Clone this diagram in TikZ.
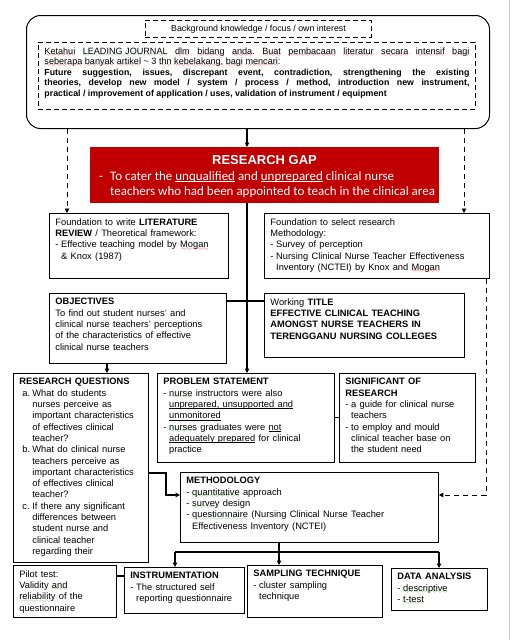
\documentclass[tikz,border=0pt]{standalone}
\usepackage{fontspec}
\setmainfont{Liberation Sans}
\newfontfamily\calfont{Carlito}
\usetikzlibrary{arrows.meta}
\definecolor{gapred}{RGB}{192,0,0}
\definecolor{sqgreen}{RGB}{70,165,70}
\frenchspacing
\font\sixly=lasy6
\newcommand\sqw[2]{\leavevmode\setbox0\hbox{#2}\rlap{\textcolor{#1}{\lower2.4pt\hbox to\wd0{\xleaders\hbox{\sixly\char58}\hfil}}}\box0\relax}
\newcommand\rs[1]{\sqw{red}{#1}}
\newcommand\gs[1]{\sqw{sqgreen}{#1}}
\newcommand\ul[1]{\leavevmode\setbox0\hbox{#1}\rlap{\rule[-1.6pt]{\wd0}{0.6pt}}\box0\relax}
\newcommand\itm{\par\hangindent=5.8pt\hangafter=1\makebox[5.8pt][l]{-}\ignorespaces}
\newcommand\rqi[1]{\par\hangindent=13pt\hangafter=1\hspace*{3pt}\makebox[10pt][l]{#1}\ignorespaces}
\newcommand\bx[7][]{\node[bxs,anchor=north west,#1] (#2) at (#3,#4) {\parbox[c][\dimexpr#6pt-#4pt-10pt\relax][t]{\dimexpr#5pt-#3pt-12pt\relax}{\raggedright\let\\\newline\spaceskip=3.3pt plus 1pt minus 0.5pt #7}};}
\tikzset{
  bxs/.style={draw, line width=0.8pt, inner xsep=6pt, inner ysep=5pt, font=\fontsize{9.3}{11.3}\selectfont},
  dbox/.style={draw, line width=0.9pt, dash pattern=on 5pt off 3pt},
  line/.style={line width=1.1pt},
  sconn/.style={line width=1.1pt, -{Triangle[length=4.5pt,width=4.5pt]}},
  dconn/.style={line width=0.9pt, dash pattern=on 5pt off 4pt, -{Triangle[length=4.5pt,width=4.5pt]}},
}
\begin{document}
\begin{tikzpicture}[x=1pt,y=-1pt]
\fill[white] (0,0) rectangle (512,640);
\useasboundingbox (0,0) rectangle (512,640);
\draw[gray!45, line width=0.8pt] (509,0) -- (509,640);
% top box
\node[draw, line width=1pt, rounded corners=14pt, minimum width=463pt, minimum height=113pt, inner sep=0pt, anchor=north west] (top) at (26,15) {};
\node[dbox, minimum width=226pt, minimum height=17pt, inner sep=0pt, anchor=north west, font=\fontsize{8.8}{10}\selectfont] (bg) at (145,20) {Background knowledge / focus / own interest};
\node[dbox, inner xsep=6pt, inner ysep=5pt, anchor=north west] (jn) at (38,42) {\parbox[c][57pt][t]{425pt}{\frenchspacing\fontsize{9.1}{10.4}\selectfont
\rs{Ketahui} \gs{LEADING JOURNAL} \rs{dlm} \rs{bidang} \rs{anda}. \rs{Buat} \rs{pembacaan} \rs{literatur} \rs{secara} \rs{intensif} \rs{bagi}\linebreak
\rs{seberapa} \rs{banyak} \rs{artikel} \textasciitilde{} 3 \rs{thn} \rs{kebelakang}, \rs{bagi} \rs{mencari}:\par
\fontsize{8.8}{10.6}\selectfont
\textbf{Future suggestion, issues, discrepant event, contradiction, strengthening the existing\linebreak theories, develop new model / system / process / method, introduction new instrument,\linebreak practical / improvement of application / uses, validation of instrument / equipment}}};
% research gap
\node[fill=gapred, minimum width=349pt, minimum height=56pt, inner sep=0pt, anchor=north west] (gap) at (90,147) {};
\node[text=white, inner sep=0pt, font=\bfseries\fontsize{13}{13}\selectfont] (gapt) at (264.5,160) {RESEARCH GAP};
\node[text=white, inner sep=0pt, anchor=north west, align=left, font=\calfont\fontsize{13}{15}\selectfont] (gapb) at (99,171) {\makebox[11pt][l]{-}To cater the \ul{unqualified} and \ul{unprepared} clinical nurse\\\hspace*{11pt}teachers who had been appointed to teach in the clinical area};
% boxes
\bx{lit}{49}{213}{228}{278}{Foundation to write \textbf{LITERATURE}\\ \textbf{REVIEW} / Theoretical framework:\itm Effective teaching model by \rs{Mogan}\\ \& Knox (1987)}
\bx{mf}{264}{213}{489}{278}{Foundation to select research\\ Methodology:\itm Survey of perception\itm Nursing Clinical Nurse Teacher Effectiveness\\ Inventory (NCTEI) by Knox and \rs{Mogan}}
\bx{obj}{49}{293}{226}{363}{\textbf{OBJECTIVES}\\ To find out student nurses' and\\ clinical nurse teachers' perceptions\\ of the characteristics of effective\\ clinical nurse teachers}
\bx{ttl}{264}{293}{464}{357}{Working \textbf{TITLE}\\ \textbf{EFFECTIVE CLINICAL TEACHING\\ AMONGST NURSE TEACHERS IN\\ TERENGGANU NURSING COLLEGES}}
\bx{rq}{13}{373}{148}{562}{\textbf{RESEARCH QUESTIONS}\rqi{a.}What do students\\ nurses perceive as\\ important characteristics\\ of effectives clinical\\ teacher?\rqi{b.}What do clinical nurse\\ teachers perceive as\\ important characteristics\\ of effectives clinical\\ teacher?\rqi{c.}If there any significant\\ differences between\\ student nurse and\\ clinical teacher\\ regarding their}
\bx{ps}{157}{373}{334}{462}{\textbf{PROBLEM STATEMENT}\itm \gs{nurse} instructors were also\\ \ul{unprepared, unsupported and}\\ \ul{unmonitored}\itm \gs{nurses} graduates were \ul{not}\\ \ul{adequately prepared} for clinical\\ practice}
\bx{sig}{339}{373}{475}{462}{\textbf{SIGNIFICANT OF\\ RESEARCH}\itm \gs{a} guide for clinical nurse\\ teachers\itm \gs{to} employ and mould\\ clinical teacher base on\\ the student need}
\bx{meth}{180}{472}{438}{542}{\textbf{METHODOLOGY}\itm \gs{quantitative} approach\itm \gs{survey} design\itm \gs{questionnaire} (Nursing Clinical Nurse Teacher\\ Effectiveness Inventory (NCTEI)}
\bx{pil}{13}{565}{116}{617}{Pilot test:\\ Validity \gs{and}\\ \gs{reliability} of the\\ questionnaire}
\bx{ins}{124}{567}{244}{613}{\textbf{INSTRUMENTATION}\itm The structured self\\ reporting questionnaire}
\bx{smp}{247}{565}{382}{617}{\textbf{SAMPLING TECHNIQUE}\itm cluster sampling\\ technique}
\bx{da}{391}{568}{487}{610}{\textbf{DATA ANALYSIS}\itm \gs{descriptive}\itm \gs{t-test}}
% coordinates
\coordinate (xa) at (67,0);
\coordinate (xm) at (247,0);
\coordinate (xb) at (464,0);
\coordinate (xr) at (486,0);
\coordinate (xo) at (107,0);
\coordinate (yh) at (0,301);
\coordinate (xq) at (166,0);
\coordinate (yq) at (0,473);
\coordinate (ym) at (0,495);
\coordinate (xmb) at (279,0);
\coordinate (yb) at (0,552);
\coordinate (xi) at (175,0);
\coordinate (xd) at (439,0);
\coordinate (yp) at (0,576);
% connectors
\draw[dconn] (top.south -| xa) -- (lit.north -| xa);
\draw[sconn] (top.south -| xm) -- (gap.north -| xm);
\draw[dconn] (top.south -| xb) -- (mf.north -| xb);
\draw[sconn] (gap.south -| xm) -- (ps.north -| xm);
\draw[line] (obj.east |- yh) -- (ttl.west |- yh);
\draw[sconn] (obj.south -| xo) -- (rq.north -| xo);
\draw[sconn] (rq.east |- yq) -| (xq |- ym) -- (meth.west |- ym);
\draw[dconn] (mf.south -| xr) |- (meth.east |- ym);
\draw[line] (ps.east) -- (sig.west);
\draw[line] (meth.south -| xmb) -- (xmb |- yb);
\draw[line] (xi |- yb) -- (xd |- yb);
\draw[sconn] (xi |- yb) -- (ins.north -| xi);
\draw[sconn] (xmb |- yb) -- (smp.north -| xmb);
\draw[sconn] (xd |- yb) -- (da.north -| xd);
\draw[line] (pil.east |- yp) -- (ins.west |- yp);
\end{tikzpicture}
\end{document}
